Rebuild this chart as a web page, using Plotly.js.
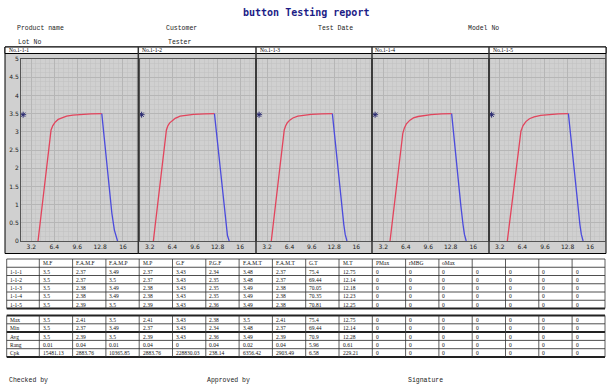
<!DOCTYPE html>
<html><head><meta charset="utf-8">
<script src="https://cdn.plot.ly/plotly-3.0.1.min.js"></script>
<style>html,body{margin:0;padding:0;background:#fff}#chart{width:611px;height:388px}</style>
</head><body><div id="chart"></div>
<script>
// ---------- DATA ----------
const reportTitle = 'button Testing report';
const infoLine1 = ['Product name', 'Customer', 'Test Date', 'Model No'];
const infoLine2 = ['Lot No', 'Tester'];
const footerTexts = ['Checked by', 'Approved by', 'Signature'];
const panelNames = ['No.1-1-1', 'No.1-1-2', 'No.1-1-3', 'No.1-1-4', 'No.1-1-5'];
const xTickStep = 3.2;
const yTickStep = 0.5;

// press (red) curves
const riseX1 = [4.13, 5.77, 5.95, 6.2, 6.5, 6.94, 7.5, 8.12, 9.0, 9.99, 11.5, 13.04];
const riseY1 = [0, 2.91, 3.05, 3.17, 3.26, 3.34, 3.39, 3.43, 3.46, 3.48, 3.49, 3.5];
const riseX2 = [3.71, 5.56, 5.75, 6.0, 6.35, 6.8, 7.5, 8.4, 9.4, 11.0, 12.36];
const riseY2 = [0, 3.05, 3.16, 3.24, 3.3, 3.37, 3.43, 3.46, 3.48, 3.49, 3.5];
const riseX3 = [3.8, 5.66, 5.85, 6.1, 6.44, 6.9, 7.6, 8.5, 9.5, 11.0, 12.56];
const riseY3 = [0, 3.05, 3.16, 3.25, 3.32, 3.38, 3.43, 3.46, 3.48, 3.49, 3.5];
const riseX4 = [4.17, 5.99, 6.2, 6.5, 7.0, 7.5, 8.16, 9.0, 10.0, 11.5, 12.93];
const riseY4 = [0, 2.96, 3.1, 3.22, 3.32, 3.38, 3.42, 3.45, 3.47, 3.49, 3.5];
const riseX5 = [4.27, 6.0, 6.2, 6.5, 6.9, 7.4, 8.06, 9.0, 10.0, 11.5, 12.92];
const riseY5 = [0, 2.86, 3.02, 3.17, 3.28, 3.36, 3.41, 3.45, 3.47, 3.49, 3.5];
// release (blue) curves
const fallX1 = [13.04, 13.5, 14.0, 14.45, 14.8, 15.24];
const fallY1 = [3.5, 2.6, 1.65, 0.76, 0.3, 0];
const fallX2 = [12.36, 12.8, 13.3, 13.7, 13.99, 14.2, 14.45];
const fallY2 = [3.5, 2.65, 1.7, 0.95, 0.4, 0.15, 0];
const fallX3 = [12.56, 13.0, 13.5, 13.9, 14.2, 14.4, 14.65];
const fallY3 = [3.5, 2.65, 1.7, 0.95, 0.45, 0.18, 0];
const fallX4 = [12.93, 13.35, 13.85, 14.25, 14.55, 14.75, 15.0];
const fallY4 = [3.5, 2.65, 1.7, 0.95, 0.45, 0.18, 0];
const fallX5 = [12.92, 13.35, 13.85, 14.25, 14.55, 14.75, 15.0];
const fallY5 = [3.5, 2.65, 1.7, 0.95, 0.45, 0.18, 0];
// start marker of every panel
const markX = [2.05, 2.05, 2.05, 2.05, 2.05];
const markY = [3.47, 3.47, 3.47, 3.47, 3.47];

// table
const colHeaders = ['M.F','F.A.M.F','F.A.M.P','M.P','G.F','P.G.F','F.A.M.T','F.A.M.T','G.T','M.T','PMax','rMBG','oMax','','','',''];
const rowLabels = ['1-1-1','1-1-2','1-1-3','1-1-4','1-1-5'];
const row1 = ['3.5','2.37','3.49','2.37','3.43','2.34','3.48','2.37','75.4','12.75','0','0','0','0','0','0','0'];
const row2 = ['3.5','2.37','3.5','2.37','3.43','2.35','3.48','2.37','69.44','12.14','0','0','0','0','0','0','0'];
const row3 = ['3.5','2.38','3.49','2.38','3.43','2.35','3.49','2.38','70.05','12.18','0','0','0','0','0','0','0'];
const row4 = ['3.5','2.38','3.49','2.38','3.43','2.35','3.49','2.38','70.35','12.23','0','0','0','0','0','0','0'];
const row5 = ['3.5','2.39','3.5','2.39','3.43','2.36','3.49','2.38','70.81','12.25','0','0','0','0','0','0','0'];
const statLabels = ['Max','Min','Avg','Rang','Cpk'];
const maxRow = ['3.5','2.41','3.5','2.41','3.43','2.38','3.5','2.41','75.4','12.75','0','0','0','0','0','0','0'];
const minRow = ['3.5','2.37','3.49','2.37','3.43','2.34','3.48','2.37','69.44','12.14','0','0','0','0','0','0','0'];
const avgRow = ['3.5','2.39','3.5','2.39','3.43','2.36','3.49','2.39','70.9','12.28','0','0','0','0','0','0','0'];
const rangRow = ['0.01','0.04','0.01','0.04','0','0.04','0.02','0.04','5.96','0.61','0','0','0','0','0','0','0'];
const cpkRow = ['15481.13','2883.76','10365.85','2883.76','228830.03','238.14','6356.42','2903.49','6.58','229.21','0','0','0','0','0','0','0'];

// ---------- LAYOUT HELPERS ----------
const W = 611, H = 388;
const px = x => x / W;
const py = y => 1 - y / H;
const plotXDom = [[21,138],[139.5,255],[257,371],[373,488],[489.5,605]];
const plotYDom = [59, 241];
const separators = [138.3, 256, 372, 489];
const frame = {x0:5, x1:606, y0:47, y1:253.5, hdr:53.5};

const riseX = [riseX1, riseX2, riseX3, riseX4, riseX5];
const riseY = [riseY1, riseY2, riseY3, riseY4, riseY5];
const fallX = [fallX1, fallX2, fallX3, fallX4, fallX5];
const fallY = [fallY1, fallY2, fallY3, fallY4, fallY5];

const traces = [];
const layout = {
  width: W, height: H, margin:{l:0,r:0,t:0,b:0},
  paper_bgcolor:'#ffffff', plot_bgcolor:'#c8c8c8',
  showlegend:false, shapes:[], annotations:[]
};
const tickFont = {family:'DejaVu Sans', size:6, color:'#222'};

for (let i = 0; i < 5; i++) {
  const s = i === 0 ? '' : String(i + 1);
  layout['xaxis' + s] = {
    domain:[px(plotXDom[i][0]), px(plotXDom[i][1])], anchor:'y' + s,
    range:[1.75, 18.1], tickmode:'linear', tick0:0, dtick:xTickStep,
    showgrid:true, gridcolor:'#b6b6b6', gridwidth:1,
    minor:{tick0:0, dtick:xTickStep/5, showgrid:true, gridcolor:'#bfbfbf', gridwidth:0.5},
    showline:true, mirror:true, linecolor:'#555', linewidth:1,
    zeroline:false, ticks:'', tickfont:tickFont, fixedrange:true
  };
  layout['yaxis' + s] = {
    domain:[py(plotYDom[1]), py(plotYDom[0])], anchor:'x' + s,
    range:[0, 5], tickmode:'linear', tick0:0, dtick:yTickStep,
    showgrid:true, gridcolor:'#b6b6b6', gridwidth:1,
    minor:{tick0:0, dtick:yTickStep/4, showgrid:true, gridcolor:'#bfbfbf', gridwidth:0.5},
    showline:true, mirror:true, linecolor:'#555', linewidth:1,
    zeroline:false, ticks:'', showticklabels: i === 0, tickfont:tickFont, fixedrange:true
  };
  traces.push({x:riseX[i], y:riseY[i], xaxis:'x'+s, yaxis:'y'+s, mode:'lines',
    line:{color:'#e2445c', width:1.3}, hoverinfo:'skip'});
  traces.push({x:fallX[i], y:fallY[i], xaxis:'x'+s, yaxis:'y'+s, mode:'lines',
    line:{color:'#4b4bdc', width:1.3}, hoverinfo:'skip'});
  traces.push({x:[markX[i]], y:[markY[i]], xaxis:'x'+s, yaxis:'y'+s, mode:'markers',
    marker:{symbol:'asterisk', size:5, color:'#2a2a70', line:{width:1, color:'#2a2a70'}}, hoverinfo:'skip'});
}

const sh = layout.shapes, an = layout.annotations;
function rect(x0,y0,x1,y1,fill,lc,lw,layer){
  sh.push({type:'rect', xref:'paper', yref:'paper', x0:px(x0), x1:px(x1), y0:py(y1), y1:py(y0),
    fillcolor:fill, line:{color:lc, width:lw}, layer:layer||'above'});
}
function line(x0,y0,x1,y1,c,w){
  sh.push({type:'line', xref:'paper', yref:'paper', x0:px(x0), x1:px(x1), y0:py(y0), y1:py(y1),
    line:{color:c, width:w}, layer:'above'});
}
function txt(x,y,t,size,fam,color,anchor,bold){
  an.push({xref:'paper', yref:'paper', x:px(x), y:py(y), text: bold ? '<b>'+t+'</b>' : t,
    showarrow:false, xanchor:anchor||'left', yanchor:'middle',
    font:{size:size, family:fam, color:color||'#111'}});
}

// chart frame
rect(frame.x0, frame.y0, frame.x1, frame.y1, '#d0d0d0', '#000', 1, 'below');
rect(frame.x0, frame.y0, frame.x1, frame.hdr, '#ffffff', '#000', 1, 'above');
separators.forEach(x => line(x, frame.y0, x, frame.y1, '#333', 1.5));
const panelLefts = [frame.x0].concat(separators);
panelNames.forEach((n, i) => txt(panelLefts[i] + 1.5, 50.3, n, 5.5, 'Liberation Serif', '#000'));

// title & info
txt(305.5, 12, reportTitle, 10, 'DejaVu Sans Mono', '#1c1c86', 'center', true);
const info1X = [15, 164, 316, 466];
infoLine1.forEach((t, i) => txt(info1X[i], 29, t, 6.5, 'Liberation Mono', '#222'));
const info2X = [16, 166];
infoLine2.forEach((t, i) => txt(info2X[i], 42, t, 6.5, 'Liberation Mono', '#222'));
const footX = [7, 205, 406];
footerTexts.forEach((t, i) => txt(footX[i], 380, t, 6.5, 'Liberation Mono', '#222'));

// tables
const colLefts = [6.7];
for (let c = 0; c <= 17; c++) colLefts.push(39.3 + c * 33.3);
const tRight = 605;
const cellFont = 5.5, cellFam = 'Liberation Serif';
function drawTable(top, rowH, rows, thickAt, thickTop){
  const bottom = top + rowH * rows.length;
  for (let r = 0; r <= rows.length; r++) {
    const y = top + r * rowH;
    const thick = (r === rows.length) || (thickTop && r === 0) || thickAt.includes(r);
    line(colLefts[0], y, tRight, y, '#222', thick ? 2 : 0.8);
  }
  colLefts.forEach(x => line(Math.min(x, tRight), top, Math.min(x, tRight), bottom, '#333', 0.8));
  rows.forEach((cells, r) => {
    const yc = top + r * rowH + rowH / 2 + 0.3;
    cells.forEach((t, c) => { if (t !== '') txt(colLefts[c] + 1.5, yc, t, cellFont, cellFam, '#111'); });
  });
}
const dataRows = [row1, row2, row3, row4, row5];
const table1 = [[''].concat(colHeaders)].concat(dataRows.map((r, i) => [rowLabels[i]].concat(r)));
drawTable(259, 8.25, table1, [], false);
const statRows = [maxRow, minRow, avgRow, rangRow, cpkRow];
const table2 = statRows.map((r, i) => [statLabels[i]].concat(r));
drawTable(315.5, 8.3, table2, [2], true);

Plotly.newPlot('chart', traces, layout, {staticPlot:true, displayModeBar:false});
</script></body></html>
